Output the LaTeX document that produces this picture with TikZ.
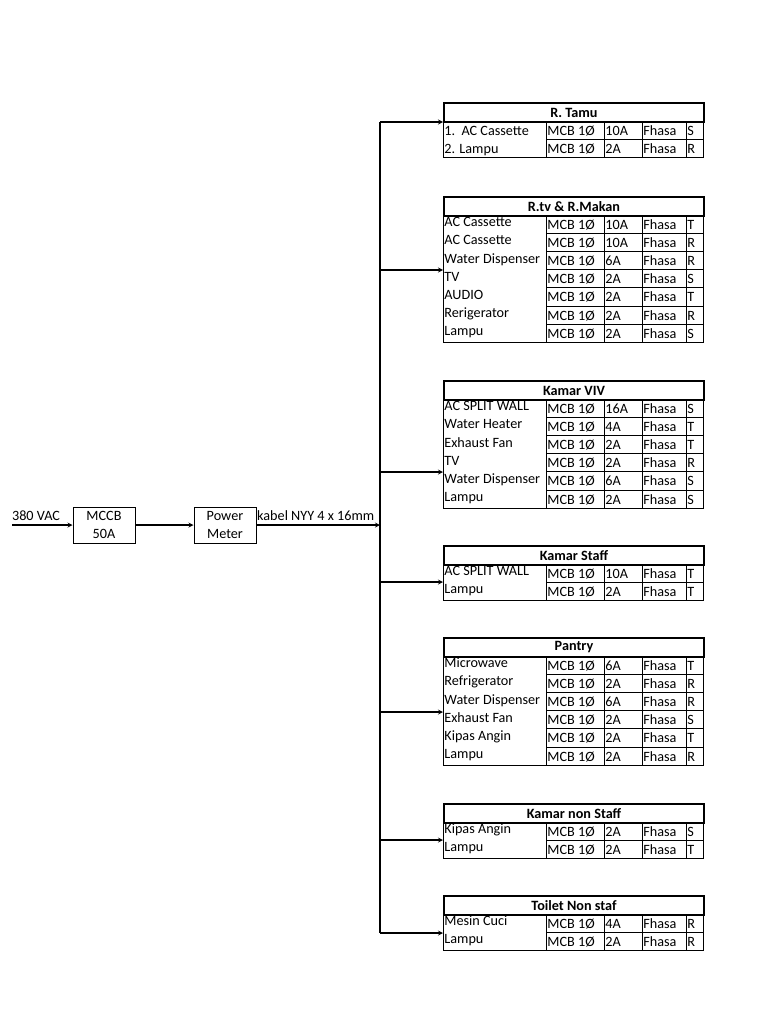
\documentclass[tikz,border=0pt]{standalone}
\usepackage{fontspec}
\setmainfont{Carlito}

% #1 name, #2 top, #3 title, #4 number of rows, #5 rows, #6 lift of load text
\newcommand{\panel}[6]{%
  \node[hdr] (#1) at (443,#2) {#3};
  \foreach \load/\amp/\ph [count=\i] in {#5} {
    \pgfmathsetmacro{\yt}{#2+19+(\i-1)*18.2}
    \pgfmathsetmacro{\yb}{\yt+18.2}
    \pgfmathsetmacro{\ym}{\yt+9.1+5}
    \draw[cell] (546,\yt) rectangle (604,\yb) (604,\yt) rectangle (642,\yb)
                (642,\yt) rectangle (686,\yb) (686,\yt) rectangle (703,\yb);
    \node[txt] (#1-load\i) at (443,\ym-#6) {\load};
    \node[txt] (#1-mcb\i) at (546,\ym) {MCB 1Ø};
    \node[txt] (#1-amp\i) at (604,\ym) {\amp};
    \node[txt] (#1-fh\i) at (642,\ym) {Fhasa};
    \node[txt] (#1-ph\i) at (686,\ym) {\ph};
  }
  \draw[cell] (443,#2+19) rectangle (546,#2+19+#4*18.2);
}

\begin{document}
\begin{tikzpicture}[x=1pt,y=-1pt,>=stealth,font=\fontsize{14.2}{18}\selectfont,
  hdr/.style={draw,line width=2pt,minimum width=260,minimum height=19,anchor=north west,inner sep=0,font=\fontsize{14.2}{18}\selectfont\bfseries},
  cell/.style={line width=0.9pt},
  txt/.style={anchor=base west,inner sep=1.2},
  box/.style={draw,line width=1pt,minimum width=62,minimum height=36,align=center,inner sep=0},
  wire/.style={line width=1.2pt}]

  \useasboundingbox (0,0) rectangle (768,1024);

  % supply side
  \coordinate (src) at (12,525);
  \node (vac) at (36,516) {380 VAC};
  \node[box] (mccb) at (104,525) {MCCB\\50A};
  \node[box] (pm) at (225,525) {Power\\Meter};
  \coordinate (busin) at (380,525);
  \node[anchor=west,inner sep=0] (kabel) at (257,516) {kabel NYY 4 x 16mm};

  \draw[wire,->] (src) -- (mccb);
  \draw[wire,->] (mccb) -- (pm);
  \draw[wire,->] (pm) -- (busin);

  % bus and feeders
  \foreach \y [count=\k] in {122,270,472,582,712,840,933} {
    \coordinate (tap\k) at (380,\y);
    \coordinate (in\k) at (443,\y);
    \draw[wire,->] (tap\k) -- (in\k);
  }
  \draw[wire] (tap1) -- (tap7);

  % panels
  \panel{tamu}{102}{R. Tamu}{2}{1.\ \ AC Cassette/10A/S, 2. Lampu/2A/R}{0}
  \panel{tv}{196}{R.tv \& R.Makan}{7}{AC Cassette/10A/T, AC Cassette/10A/R,
    Water Dispenser/6A/R, TV/2A/S, AUDIO/2A/T, Rerigerator/2A/R, Lampu/2A/S}{2.5}
  \panel{viv}{380}{Kamar VIV}{6}{AC SPLIT WALL/16A/S, Water Heater/4A/T,
    Exhaust Fan/2A/T, TV/2A/R, Water Dispenser/6A/S, Lampu/2A/S}{2.5}
  \panel{staff}{545}{Kamar Staff}{2}{AC SPLIT WALL/10A/T, Lampu/2A/T}{2.5}
  \panel{pantry}{637}{Pantry}{6}{Microwave/6A/T, Refrigerator/2A/R,
    Water Dispenser/6A/R, Exhaust Fan/2A/S, Kipas Angin/2A/T, Lampu/2A/R}{2.5}
  \panel{nonstaff}{803}{Kamar non Staff}{2}{Kipas Angin/2A/S, Lampu/2A/T}{2.5}
  \panel{toilet}{895}{Toilet Non staf}{2}{Mesin Cuci/4A/R, Lampu/2A/R}{2.5}

\end{tikzpicture}
\end{document}
